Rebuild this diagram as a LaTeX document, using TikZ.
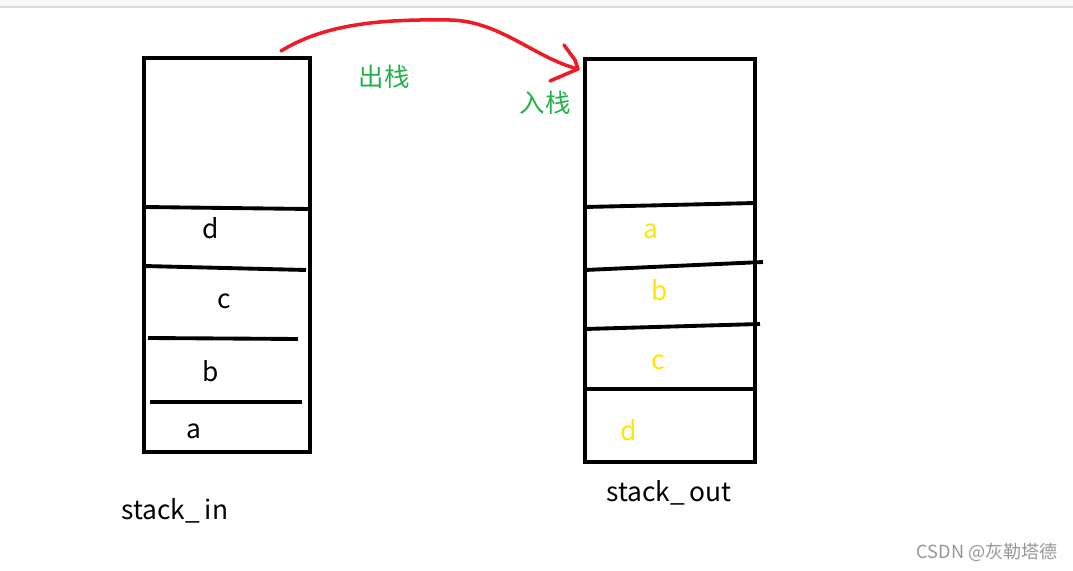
\documentclass[tikz,border=0pt]{standalone}
\usepackage{fontspec}
\setmainfont{Noto Sans CJK SC}
\usetikzlibrary{positioning,calc}
\definecolor{penred}{RGB}{237,28,36}
\definecolor{pengreen}{RGB}{34,177,76}
\definecolor{penyellow}{RGB}{255,230,0}
\definecolor{markgray}{RGB}{150,150,150}

\begin{document}
\begin{tikzpicture}[
  x=0.02cm,y=-0.02cm,
  stackbox/.style={draw=black,line width=2.7pt,minimum width=3.32cm,inner sep=0pt},
  divider/.style={line width=2.2pt,draw=black},
  inlbl/.style={font=\fontsize{15}{17}\selectfont,text=black,inner sep=1pt},
  outlbl/.style={font=\fontsize{15}{17}\selectfont,text=penyellow,inner sep=1pt},
  stackname/.style={font=\fontsize{15}{17}\selectfont,text=black,inner sep=1pt},
  oplbl/.style={font=\fontsize{14.5}{16}\selectfont,text=pengreen,inner sep=1pt},
  move/.style={draw=penred,line width=2pt,line cap=round,line join=round}
]
\useasboundingbox (0,0) rectangle (1073,571);
% ---------- window strip
\fill[black!3] (0,0) rectangle (1073,6.5);
\draw[black!15,line width=0.6pt] (0,7) -- (1073,7);
% ---------- stacks
\node[stackbox,minimum height=7.88cm] (in)  at (227,255) {};
\node[stackbox,minimum height=8.06cm,minimum width=3.40cm] (out) at (670,260.5) {};
% ---------- stack_in cells
\draw[divider] (144,207) -- (310,209);
\draw[divider] (144,266) -- (306,270);
\draw[divider] (148,338) -- (298,339);
\draw[divider] (150,402) -- (302,402);
\node[inlbl] (ind) at (211,228) {d};
\node[inlbl] (inc) at (224,301) {c};
\node[inlbl] (inb) at (211,371) {b};
\node[inlbl] (ina) at (194,431) {a};
% ---------- stack_out cells
\draw[divider] (585,207) -- (755,203);
\draw[divider] (585,270) -- (763,262);
\draw[divider] (585,329) -- (760,324);
\draw[divider] (585,389) -- (755,389);
\node[outlbl] (outa) at (651,231) {a};
\node[outlbl] (outb) at (660,290) {b};
\node[outlbl] (outc) at (658,362) {c};
\node[outlbl] (outd) at (629,430) {d};
% ---------- names
\node[stackname] (inname)  at (175,511) {stack\_\hspace{0.18em}in};
\node[stackname] (outname) at (669,493) {stack\_\hspace{0.18em}out};
% ---------- transfer
\coordinate (pop)  at (281,51);
\coordinate (push) at (578,69);
\draw[move] (pop) .. controls (325,24) and (380,19) .. (450,20)
            .. controls (500,21) and (535,58) .. (push);
\draw[move] (564,45) -- (575,60) -- (push) -- (550,81);
\node[oplbl] (poplbl)  at (384,77)  {出栈};
\node[oplbl] (pushlbl) at (545,103) {入栈};
% ---------- watermark
\node[font=\fontsize{10.3}{12}\selectfont,text=markgray,anchor=east,inner sep=0pt] (mark) at (1058,552) {CSDN @灰勒塔德};
\end{tikzpicture}
\end{document}
